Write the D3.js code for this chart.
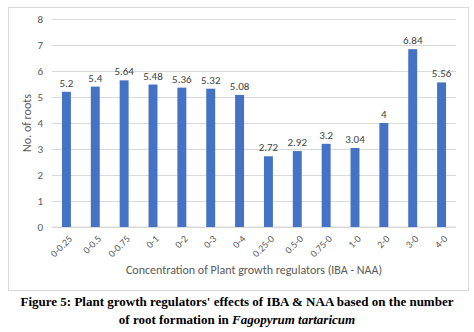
<!DOCTYPE html>
<html><head><meta charset="utf-8">
<script src="https://cdn.jsdelivr.net/npm/d3@7"></script>
<style>body{margin:0;background:#fff}svg{display:block}</style>
</head><body>
<svg id="c" width="474" height="332"></svg>
<script>
const categories = ["0-0.25","0-0.5","0-0.75","0-1","0-2","0-3","0-4","0.25-0","0.5-0","0.75-0","1-0","2-0","3-0","4-0"];
const values = [5.2,5.4,5.64,5.48,5.36,5.32,5.08,2.72,2.92,3.2,3.04,4,6.84,5.56];
const yTicks = [0,1,2,3,4,5,6,7,8];

(function () {
const svg = d3.select("#c");
const pL = 52, pR = 456, pT = 19, pB = 227;
const x = d3.scaleBand().domain(categories).range([pL, pR]).paddingInner(0.69).paddingOuter(0.345);
const y = d3.scaleLinear().domain([0, 8]).range([pB, pT]);

svg.append("rect").attr("x", 8.5).attr("y", 7.5).attr("width", 460).attr("height", 283)
  .attr("fill", "#fff").attr("stroke", "#d9d9d9");

const yAxis = d3.axisLeft(y).tickValues(yTicks).tickSize(-(pR - pL)).tickPadding(9);
const gy = svg.append("g").attr("transform", `translate(${pL},0)`).call(yAxis);
gy.select(".domain").remove();
gy.selectAll(".tick line").attr("stroke", "#d9d9d9");
gy.selectAll(".tick text").attr("fill", "#595959").style("font", "11px Calibri, Carlito, 'Open Sans', sans-serif");

svg.append("line").attr("x1", pL).attr("x2", pR).attr("y1", y(0)).attr("y2", y(0)).attr("stroke", "#d9d9d9");

svg.selectAll("rect.bar").data(values).join("rect").attr("class", "bar")
  .attr("x", (d, i) => x(categories[i])).attr("width", x.bandwidth())
  .attr("y", d => y(d)).attr("height", d => y(0) - y(d)).attr("fill", "#4472C4");

svg.selectAll("text.lbl").data(values).join("text").attr("class", "lbl")
  .attr("x", (d, i) => x(categories[i]) + x.bandwidth() / 2).attr("y", d => y(d) - 5)
  .attr("text-anchor", "middle").attr("fill", "#404040")
  .style("font", "11px Calibri, Carlito, 'Open Sans', sans-serif").text(d => d);

const xAxis = d3.axisBottom(x).tickSize(0).tickPadding(0);
const gx = svg.append("g").attr("transform", `translate(0,${pB})`).call(xAxis);
gx.select(".domain").remove();
gx.selectAll(".tick text").attr("fill", "#595959")
  .style("font", "10px Calibri, Carlito, 'Open Sans', sans-serif")
  .attr("text-anchor", "end").attr("dy", "0.35em")
  .attr("transform", "translate(4,10) rotate(-45)");

svg.append("text").attr("transform", `translate(31,${(pT + pB) / 2}) rotate(-90)`)
  .attr("text-anchor", "middle").attr("fill", "#595959")
  .style("font", "12px Calibri, Carlito, 'Open Sans', sans-serif").text("No. of roots");

svg.append("text").attr("x", 254).attr("y", 274).attr("text-anchor", "middle").attr("fill", "#595959")
  .style("font", "12px Calibri, Carlito, 'Open Sans', sans-serif")
  .text("Concentration of Plant growth regulators (IBA - NAA)");

const cap = svg.append("g").style("font", "bold 13px 'Liberation Serif', 'Times New Roman', serif").attr("fill", "#000");
cap.append("text").attr("x", 237).attr("y", 306).attr("text-anchor", "middle")
  .text("Figure 5: Plant growth regulators' effects of IBA & NAA based on the number");
const l2 = cap.append("text").attr("x", 237).attr("y", 324).attr("text-anchor", "middle");
l2.append("tspan").text("of root formation in ");
l2.append("tspan").style("font-style", "italic").text("Fagopyrum tartaricum");
})();
</script>
</body></html>
